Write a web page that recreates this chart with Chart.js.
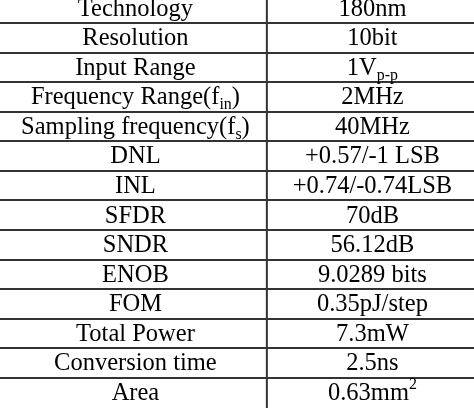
<!DOCTYPE html>
<html>
<head>
<meta charset="utf-8">
<script src="https://cdn.jsdelivr.net/npm/chart.js@4/dist/chart.umd.min.js"></script>
<style>
  html, body { margin: 0; padding: 0; background: #fff; }
  #wrap { width: 474px; height: 408px; }
</style>
</head>
<body>
<div id="wrap"><canvas id="chart"></canvas></div>
<script>
/* 표 내용 */
var parameters = ["Technology", "Resolution", "Input Range", "Frequency Range(f_{in})",
    "Sampling frequency(f_{s})", "DNL", "INL", "SFDR", "SNDR", "ENOB", "FOM",
    "Total Power", "Conversion time", "Area"];
var values = ["180nm", "10bit", "1V_{p-p}", "2MHz", "40MHz", "+0.57/-1 LSB",
    "+0.74/-0.74LSB", "70dB", "56.12dB", "9.0289 bits", "0.35pJ/step",
    "7.3mW", "2.5ns", "0.63mm^{2}"];

var FONT = 24.5;
var FAMILY = "'Liberation Serif', 'Times New Roman', serif";

function parts(str) {
    var out = [], re = /([_^])\{([^}]*)\}/g, last = 0, m;
    while ((m = re.exec(str))) {
        if (m.index > last) out.push({t: str.slice(last, m.index), k: ""});
        out.push({t: m[2], k: m[1]});
        last = re.lastIndex;
    }
    if (last < str.length) out.push({t: str.slice(last), k: ""});
    return out;
}

function drawRich(ctx, str, cx, cy) {
    var p = parts(str), w = 0, i;
    for (i = 0; i < p.length; i++) {
        ctx.font = (p[i].k ? FONT * 0.65 : FONT) + "px " + FAMILY;
        p[i].w = ctx.measureText(p[i].t).width;
        w += p[i].w;
    }
    var x = cx - w / 2;
    for (i = 0; i < p.length; i++) {
        ctx.font = (p[i].k ? FONT * 0.65 : FONT) + "px " + FAMILY;
        var dy = p[i].k === "_" ? 7 : (p[i].k === "^" ? -9 : 0);
        ctx.fillText(p[i].t, x, cy + dy);
        x += p[i].w;
    }
}

var tablePlugin = {
    id: "table",
    afterDraw: function(chart) {
        var ctx = chart.ctx, xs = chart.scales.x, ys = chart.scales.y;
        var split = xs.getPixelForValue(0.563);
        ctx.save();
        ctx.strokeStyle = "#333";
        ctx.lineWidth = 2;
        ctx.beginPath();
        for (var r = 1; r < parameters.length; r++) {
            var y = Math.round(ys.getPixelForValue(r));
            ctx.moveTo(xs.left, y);
            ctx.lineTo(xs.right, y);
        }
        ctx.moveTo(split, ys.top);
        ctx.lineTo(split, ys.bottom);
        ctx.stroke();

        ctx.fillStyle = "#000";
        ctx.textBaseline = "middle";
        ctx.textAlign = "left";
        for (var i = 0; i < parameters.length; i++) {
            var cy = ys.getPixelForValue(i + 0.5) + 1;
            drawRich(ctx, parameters[i], (xs.left + split) / 2 + 2, cy);
            drawRich(ctx, values[i], (split + xs.right) / 2 + 2, cy);
        }
        ctx.restore();
    }
};

window.onload = function() {
    var ctx = document.getElementById("chart").getContext("2d");
    window.theChart = new Chart(ctx, {
        type: "scatter",
        data: { datasets: [{ data: [] }] },
        options: {
            responsive: true,
            maintainAspectRatio: false,
            animation: false,
            layout: { padding: 0 },
            plugins: { legend: { display: false }, tooltip: { enabled: false } },
            scales: {
                x: { display: false, min: 0, max: 1 },
                y: { display: false, reverse: true, min: 0.223, max: 14.02 }
            }
        },
        plugins: [tablePlugin]
    });
};
</script>
</body>
</html>
